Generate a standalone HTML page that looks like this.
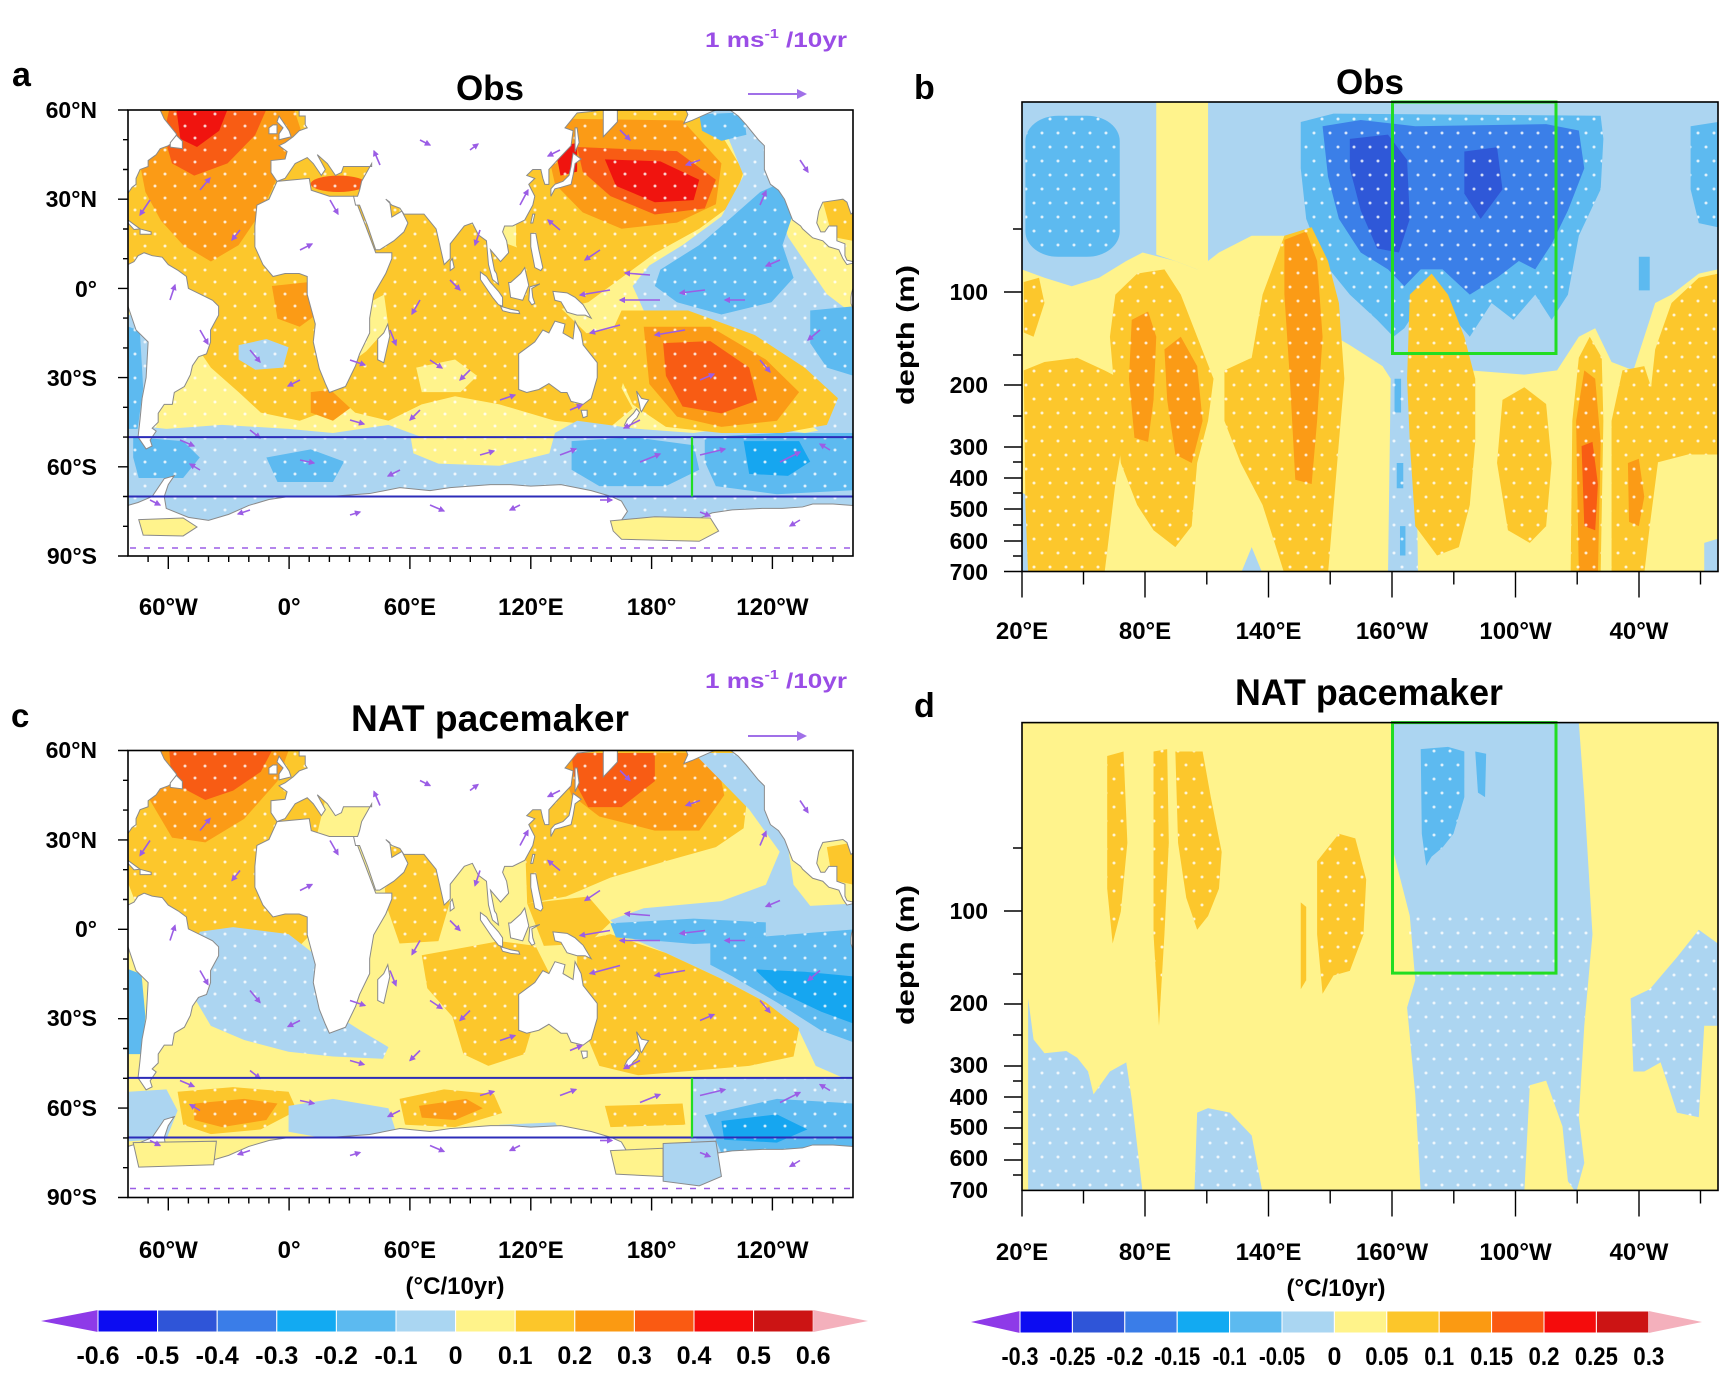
<!DOCTYPE html>
<html><head><meta charset="utf-8"><style>
html,body{margin:0;padding:0;background:#fff;}
svg{display:block;}
.nss *{vector-effect:non-scaling-stroke;}
text{font-family:"Liberation Sans",Arial,sans-serif;font-weight:bold;}
</style></head><body>
<svg width="1725" height="1377" viewBox="0 0 1725 1377" xmlns="http://www.w3.org/2000/svg">
<defs>
<clipPath id="cA"><rect x="128" y="110" width="725" height="446"/></clipPath>
<clipPath id="cC"><rect x="128" y="750.5" width="725" height="447"/></clipPath>
<clipPath id="cB"><rect x="1022" y="102" width="696" height="469.5"/></clipPath>
<clipPath id="cD"><rect x="1022" y="722.6" width="696" height="467.8"/></clipPath>
<pattern id="dA" width="20" height="24" patternUnits="userSpaceOnUse" patternTransform="scale(1.802,2.448)"><circle cx="5" cy="6" r="1.5" fill="#fff" fill-opacity="0.8"/><circle cx="15" cy="18" r="1.5" fill="#fff" fill-opacity="0.8"/></pattern>
<pattern id="dC" width="20" height="24" patternUnits="userSpaceOnUse" patternTransform="scale(1.802,2.125)"><circle cx="5" cy="6" r="1.5" fill="#fff" fill-opacity="0.8"/><circle cx="15" cy="18" r="1.5" fill="#fff" fill-opacity="0.8"/></pattern>
<pattern id="dB" width="16" height="28" patternUnits="userSpaceOnUse" patternTransform="scale(1.834,2.376)"><circle cx="4" cy="7" r="1.5" fill="#fff" fill-opacity="0.8"/><circle cx="12" cy="21" r="1.5" fill="#fff" fill-opacity="0.8"/></pattern>
<pattern id="dD" width="16" height="28" patternUnits="userSpaceOnUse" patternTransform="scale(1.834,2.187)"><circle cx="4" cy="7" r="1.5" fill="#fff" fill-opacity="0.8"/><circle cx="12" cy="21" r="1.5" fill="#fff" fill-opacity="0.8"/></pattern>
<marker id="ah" viewBox="0 0 10 10" refX="8" refY="5" markerWidth="4" markerHeight="4" orient="auto"><path d="M0,0 L10,5 L0,10 z" fill="#9b5de5"/></marker>
<marker id="ah2" viewBox="0 0 10 10" refX="8" refY="5" markerWidth="5" markerHeight="5" orient="auto"><path d="M0,0 L10,5 L0,10 z" fill="#a070e8"/></marker>

<g id="land" class="nss" fill="#fff" stroke="#8a8a8a" stroke-width="1">
<polygon points="-17,-21 -16,-28 -10,-30 -6,-36 10,-37 11,-33 20,-31 30,-31 32,-31 34,-28 38,-21 43,-12 51,-12 51,-10 48,-5 42,2 40,10 40,15 35,22 33,26 28,33 20,35 18,32 15,27 12,18 13,12 9,2 9,-4 5,-5 -2,-5 -8,-4 -13,-8 -17,-14"/>
<polygon points="5,-60 5,-58 8,-58 8,-55 9,-54 5,-53 2,-51 -2,-49 -5,-48 -1,-46 -2,-43.5 -9,-43 -9,-39 -6,-36 -2,-37 0,-39 3,-42 6,-43 9,-44 12,-42 16,-38 18,-40 14,-45 19,-42 23,-38 26,-39 27,-41 29,-41 36,-41 41,-41 41,-42 36,-36 35,-33 34,-31 32,-31 33,-28 35,-28 39,-21 43,-13 45,-13 52,-16 57,-19 59,-22 56,-26 51,-24 50,-29 48,-30 51,-28 55,-27 57,-25 62,-25 67,-25 73,-20 77,-8 80,-10 80,-15 87,-21 91,-22 94,-18 98,-16 99,-8 101,-3 104,-1.3 103,-5 102,-6 100,-13 105,-9 109,-12 108,-16 106,-19 107,-21 111,-21 117,-23 121,-28 122,-31 119,-35 122,-37 118,-38 121,-40 125,-40 126,-37 127,-35 129,-35 129,-40 133,-43 140,-48 141,-53 137,-54 143,-59 150,-59.5 155,-60"/>
<polygon points="156,-51 163,-56 163,-60 156,-60 156,-57"/>
<polygon points="142,-46 144,-49 143,-54 142,-54 142,-50"/>
<polygon points="130,-31 132,-33.5 135,-34 140,-35 141,-38 142,-42 145,-43.5 141,-45.5 140,-41 139,-38 136,-36 132,-35 130,-33.5"/>
<polygon points="49,12 50,16 47,25 44,24 44,17 47,15"/>
<polygon points="80,-6 82,-7 81,-10 80,-9"/>
<polygon points="120,-18.5 122.5,-18.5 124,-13 126,-7 125,-6 122,-7 120,-14"/>
<polygon points="120,-22 121,-25 122,-25 121,-22"/>
<polygon points="95,-5.5 98,-4 100,-2 104,1 106,3 106,6 104,5.5 101,3 98,0 95,-3"/>
<polygon points="105,6 110,7 114,7.5 114.5,8.5 110,8.2 106,7.5"/>
<polygon points="109,-2 110,3 116,4 119,-1 117,-7 115,-5 110,-2"/>
<polygon points="119,4 119.5,-0.5 124.5,-1.5 120.5,0 121,3 122,5 120.5,5.5"/>
<polygon points="131,1 138,1.5 142,3 146,5.5 150,10 147,9 143,9 138,8 135,4.5 132,4"/>
<polygon points="114,22 114,34 118,35 124,34 129,32 135,35 138,35 140,38 146,39 150,37 153,30 153,25 146,19 145,15 142,11 141,17 136,15 137,12 132,11 129,15 126,14 122,18"/>
<polygon points="145,41 148,41 148,43 146,43.5"/>
<polygon points="172.5,34.5 175,37 178.5,37.5 177,39 175,41.5 174.5,41 174,39"/>
<polygon points="172.5,40.5 174,41.7 172.7,43.5 171,44.5 169,46.5 166.5,46 168,44 171,42"/>
<polygon points="280,-60 219,-60 223,-58 227,-55 233,-50 236,-48 236,-40 239,-35 243,-33 246,-30 250,-23 254,-21 255,-20 260,-17 265,-16 268,-14 273,-13 275,-10 277,-8 280,-8.5 280,-9 277,-9.5 276,-11 276,-15 272,-16 272,-21 268,-21 266,-19 264,-19 262,-22 263,-26 265,-29 270,-29.5 275,-30 277,-29 278,-27 279,-25 280,-25.5"/>
<polygon points="197,-60 198,-58.5 196,-55.5 200,-56.5 205,-58 210,-59.5 212,-60"/>
<polygon points="280,0 279.3,1.5 279,3 279,5 280,7"/>
<polygon points="-80,-8 -77,-9 -75,-11 -72,-12 -68,-11 -63,-10.5 -60,-8 -55,-6 -51,-4 -50,0 -44,2 -38,4 -35,6 -35,9 -39,14 -39,18 -41,22 -45,23 -48,26 -49,29 -52,33 -57,35 -58,39 -62,39 -65,42 -65,45 -68,47 -66,48 -69,51 -68,53 -71,54 -75,50 -74,44 -73,37 -71,30 -70,18 -76,14 -80,6"/>
<polygon points="-80,-60 -64,-60 -62,-57 -56,-52 -56,-50 -60,-48 -64,-47 -66,-45 -70,-43 -70,-41 -74,-40 -76,-37 -76,-35 -78,-34 -80,-32"/>
<polygon points="-59,-47.5 -53,-47 -53,-49.5 -56,-51.5 -59,-49"/>
<polygon points="-80,-23 -76,-21 -74,-20 -77,-19.8 -80,-22"/>
<polygon points="-74,-20 -68.5,-19 -68.5,-18.2 -74,-18.2"/>
<polygon points="-5,-50 1,-51 0,-53 -3,-56 -5,-58 -6,-56 -3,-54 -5,-52"/>
<polygon points="-10,-52 -6,-52 -6,-55 -8,-55 -10,-54"/>
<polygon points="-80,73 -75,72 -68,70 -62,64 -57,63 -60,66 -62,70 -61,74 -50,77 -40,78 -30,76 -20,73 -10,71 0,70 20,70 30,69.5 40,69 55,67 70,68 80,67 90,66.5 100,66 110,66 120,66.5 135,66 150,68 160,70 165,71.5 168,75 165,78 180,78.5 200,78.5 205,77 210,75.5 220,74.5 235,74 245,74 255,73.5 260,72.5 270,72.5 280,73 280,91 -80,91"/>
</g>

<g id="arr" fill="none" stroke="#9b5de5" stroke-width="1.6" marker-end="url(#ah)">
<path d="M660,300 l-40,0"/><path d="M705,290 l-25,3"/><path d="M745,300 l-20,0"/><path d="M620,325 l-30,8"/><path d="M685,330 l-30,5"/><path d="M650,275 l-25,-2"/><path d="M610,290 l-30,5"/>
<path d="M600,250 l-15,10"/><path d="M560,230 l-12,-10"/><path d="M520,205 l8,-15"/><path d="M480,230 l-5,15"/><path d="M450,280 l10,10"/><path d="M420,300 l-8,14"/><path d="M390,330 l6,15"/><path d="M430,360 l12,8"/><path d="M470,370 l-10,10"/><path d="M350,360 l15,5"/><path d="M300,380 l-12,6"/><path d="M250,350 l10,12"/><path d="M200,330 l8,14"/><path d="M170,300 l5,-15"/><path d="M150,200 l-10,15"/><path d="M200,190 l10,-12"/><path d="M240,230 l-8,10"/><path d="M300,250 l12,-6"/><path d="M330,200 l8,14"/><path d="M380,165 l-6,-14"/><path d="M420,140 l10,5"/><path d="M470,150 l8,-6"/><path d="M560,150 l-12,6"/><path d="M620,130 l10,10"/><path d="M700,160 l-14,5"/><path d="M760,205 l6,-14"/><path d="M800,160 l8,12"/><path d="M780,260 l-14,6"/><path d="M820,330 l-12,10"/><path d="M760,360 l10,12"/><path d="M700,380 l14,-6"/><path d="M640,420 l-16,8"/><path d="M570,410 l12,-5"/><path d="M500,400 l15,-5"/><path d="M420,410 l-10,10"/><path d="M350,420 l14,4"/><path d="M250,430 l10,8"/><path d="M180,440 l14,6"/><path d="M200,470 l-10,-6"/><path d="M300,460 l14,3"/><path d="M400,470 l-12,6"/><path d="M480,455 l14,-4"/><path d="M560,455 l16,-6"/><path d="M640,462 l20,-8"/><path d="M700,455 l25,-6"/><path d="M780,462 l20,-10"/><path d="M830,450 l-10,-6"/><path d="M150,500 l10,5"/><path d="M250,510 l-12,4"/><path d="M350,515 l10,-3"/><path d="M430,505 l14,6"/><path d="M520,505 l-10,5"/><path d="M600,500 l12,0"/><path d="M700,512 l10,4"/><path d="M800,520 l-10,6"/>
<path d="M130,548 H852" stroke-dasharray="6,8" marker-end="none"/>
</g>

<!-- dot clip regions -->
<clipPath id="kC">
<use href="#c_na"/><use href="#c_sa"/><use href="#c_io1"/><use href="#c_io2"/><use href="#c_nwp"/><use href="#c_ep2"/><use href="#c_sp"/><use href="#c_s1"/><use href="#c_s2"/><use href="#c_s3"/><use href="#c_rb"/><use href="#c_eq"/>
</clipPath>
<clipPath id="kB">
<use href="#b_l"/><use href="#b_big"/><use href="#b_r"/><use href="#b_A"/><use href="#b_A2"/><use href="#b_B"/><use href="#b_C"/><use href="#b_D"/><use href="#b_E"/><use href="#b_F"/><use href="#b_G"/><use href="#b_H"/>
<path d="M955,880 L1000,880 L1005,1363 L950,1363 Z"/>
</clipPath>
<clipPath id="kD">
<path d="M985,560 L1325,560 L1310,800 L1300,1000 L1310,1100 L1295,1165 L1280,1140 L1270,1020 L1240,920 L1210,930 L1200,1165 L1010,1165 L1000,950 L985,760 L1000,700 Z"/>
<use href="#d_ll"/><use href="#d_lm"/><use href="#d_r"/><use href="#d_m1"/><use href="#d_o1"/><use href="#d_o2"/><use href="#d_o3"/><use href="#d_o5"/>
</clipPath>
</defs>

<!-- ============ PANEL A ============ -->
<g clip-path="url(#cA)">
<g transform="scale(0.55494,0.4085)">
<rect x="232" y="268" width="1306" height="1100" fill="#fff38c"/>
<path fill="#fcc72c" d="M232,268 H720 V700 L640,760 L620,830 L640,900 L600,1000 L540,1030 L470,1010 L430,960 L380,900 L350,840 L300,800 L250,760 L232,740 Z"/>
<path fill="#fb9b16" d="M290,268 H530 L545,330 L505,420 L470,520 L430,600 L380,640 L330,600 L290,540 L262,470 L252,400 L265,320 Z"/>
<path fill="#f85c14" d="M305,268 H480 L460,330 L410,400 L350,430 L310,400 L295,330 Z"/>
<path fill="#f0140f" d="M318,268 H410 L395,320 L355,360 L325,340 Z"/>
<path fill="#fb9b16" d="M490,700 L560,690 L580,760 L540,800 L500,780 Z"/>
<path fill="#acd5f1" d="M430,845 L480,830 L520,850 L510,900 L460,905 L430,880 Z"/>
<ellipse fill="#f85c14" cx="610" cy="450" rx="50" ry="20"/>
<path fill="#fb9b16" d="M560,960 L620,950 L640,990 L600,1030 L560,1010 Z"/>
<path fill="#fcc72c" d="M640,520 L820,520 L880,580 L960,620 L1000,740 L1060,820 L1100,900 L1140,1000 L1100,1045 L1000,1030 L900,990 L820,970 L760,990 L700,1030 L640,1010 L600,960 L620,900 L660,860 L700,800 L690,700 Z"/>
<path fill="#fff38c" d="M750,900 L820,880 L860,920 L830,960 L760,960 Z"/>
<path fill="#acd5f1" d="M232,1040 L300,1050 L400,1040 L520,1050 L600,1060 L700,1040 L760,1070 L1000,1060 L1040,1030 L1150,1050 L1250,1060 L1350,1040 L1450,1060 L1538,1040 V1300 H232 Z"/>
<path fill="#fff38c" d="M740,1070 L1000,1060 L990,1110 L900,1140 L790,1135 L745,1110 Z"/>
<path fill="#5dbaf0" d="M240,1070 L330,1080 L360,1120 L330,1170 L250,1170 L240,1120 Z"/>
<path fill="#5dbaf0" d="M480,1120 L560,1100 L620,1130 L600,1180 L500,1180 Z"/>
<path fill="#5dbaf0" d="M1030,1080 L1140,1070 L1250,1090 L1260,1150 L1200,1190 L1080,1190 L1030,1150 Z"/>
<path fill="#5dbaf0" d="M1270,1070 L1400,1060 L1538,1060 V1200 L1400,1210 L1290,1190 L1270,1130 Z"/>
<path fill="#16a6f0" d="M1340,1080 L1440,1080 L1460,1130 L1420,1165 L1350,1160 Z"/>
<path fill="#fcc72c" d="M930,268 H1250 L1300,330 L1340,420 L1320,500 L1260,560 L1180,620 L1120,680 L1060,740 L1000,760 L960,700 L930,600 Z"/>
<path fill="#fb9b16" d="M990,290 L1230,295 L1300,400 L1290,500 L1220,545 L1120,560 L1050,520 L1000,450 L985,360 Z"/>
<path fill="#f85c14" d="M1040,360 L1220,370 L1290,440 L1270,510 L1180,525 L1100,480 L1050,420 Z"/>
<path fill="#f0140f" d="M1090,390 L1190,395 L1260,440 L1250,490 L1180,495 L1110,455 Z"/>
<path fill="#f0140f" d="M1000,360 L1040,350 L1040,420 L1010,430 Z"/>
<path fill="#acd5f1" d="M1240,268 H1538 V1060 L1480,1060 L1420,1000 L1390,930 L1320,850 L1230,790 L1160,760 L1140,700 L1170,650 L1230,600 L1300,530 L1340,430 L1310,330 Z"/>
<path fill="#fff38c" d="M1400,500 L1460,460 L1538,430 V770 L1490,720 L1450,640 L1420,580 Z"/>
<path fill="#fcc72c" d="M1480,480 L1538,470 V590 L1500,580 Z"/>
<path fill="#5dbaf0" d="M1190,660 L1260,600 L1320,530 L1370,470 L1420,440 L1430,520 L1410,600 L1430,680 L1390,740 L1300,770 L1220,740 L1180,700 Z"/>
<path fill="#5dbaf0" d="M1260,280 L1340,275 L1345,330 L1300,345 L1265,320 Z"/>
<path fill="#5dbaf0" d="M1460,760 L1538,750 V920 L1490,900 L1460,840 Z"/>
<path fill="#fcc72c" d="M1120,760 L1240,760 L1360,820 L1450,900 L1510,975 L1490,1040 L1410,1060 L1300,1060 L1200,1045 L1140,990 L1110,900 L1100,820 Z"/>
<path fill="#fb9b16" d="M1160,800 L1280,800 L1380,880 L1440,960 L1400,1030 L1300,1045 L1220,1020 L1170,940 Z"/>
<path fill="#f85c14" d="M1195,840 L1280,835 L1350,900 L1365,980 L1300,1012 L1230,995 L1200,920 Z"/>
<path fill="#fcc72c" d="M1040,820 L1120,800 L1130,900 L1110,1000 L1060,1010 L1050,900 Z"/>
<path fill="#acd5f1" d="M232,770 L262,780 L272,900 L268,1060 L232,1060 Z"/>
<path fill="#5dbaf0" d="M232,800 L252,810 L258,950 L248,1050 L232,1050 Z"/>
<rect x="232" y="268" width="1306" height="1100" fill="url(#dA)"/>
</g>
<use href="#land" transform="translate(289.1,288.4) scale(2.0139,2.9733)"/>
<g class="nss" transform="scale(0.55494,0.4085)" stroke="#8a8a8a" stroke-width="1">
<path fill="#fff38c" d="M1100,1275 L1180,1265 L1280,1268 L1295,1300 L1260,1325 L1120,1320 L1105,1300 Z"/>
<path fill="#fff38c" d="M250,1272 L330,1268 L355,1290 L330,1312 L258,1310 Z"/>
</g>
<use href="#arr"/>
</g>
<line x1="128" y1="437.1" x2="853" y2="437.1" stroke="#2c2cb8" stroke-width="2"/>
<line x1="128" y1="496.5" x2="853" y2="496.5" stroke="#2c2cb8" stroke-width="2"/>
<line x1="692" y1="437.1" x2="692" y2="496.5" stroke="#22dd22" stroke-width="2.2"/>
<rect x="128" y="110" width="725" height="446" fill="none" stroke="#000" stroke-width="1.6"/>

<!-- ============ PANEL C ============ -->
<g clip-path="url(#cC)">
<g transform="translate(0,640) scale(0.55494,0.4706)">
<rect x="232" y="235" width="1306" height="960" fill="#fff38c"/>
<path id="c_na" fill="#fcc72c" d="M232,235 H580 L590,320 L570,420 L575,520 L580,600 L540,650 L470,655 L400,645 L340,640 L280,610 L245,560 L232,520 Z"/>
<path fill="#fb9b16" d="M290,235 H520 L500,300 L440,380 L370,430 L310,420 L270,340 L272,270 Z"/>
<path fill="#f85c14" d="M305,235 H490 L470,280 L420,320 L370,340 L330,315 L308,280 Z"/>
<path id="c_sa" fill="#acd5f1" d="M360,620 L420,610 L520,625 L580,680 L610,800 L650,830 L700,865 L690,890 L600,885 L520,875 L440,850 L380,820 L350,760 L340,680 Z"/>
<path fill="#5dbaf0" d="M232,700 L255,710 L262,800 L255,880 L232,880 Z"/>
<path id="c_s1" fill="#fcc72c" d="M320,960 L420,950 L520,960 L535,1000 L470,1040 L380,1050 L330,1030 Z"/>
<path fill="#fb9b16" d="M350,985 L440,975 L500,985 L480,1020 L400,1035 L350,1020 Z"/>
<path id="c_s2" fill="#fcc72c" d="M720,975 L800,955 L890,965 L905,1005 L820,1035 L730,1030 Z"/>
<path fill="#fb9b16" d="M755,990 L840,975 L870,995 L820,1020 L760,1015 Z"/>
<path id="c_s3" fill="#fcc72c" d="M1090,990 L1230,985 L1235,1030 L1100,1035 Z"/>
<path fill="#acd5f1" d="M520,990 L600,975 L700,995 L715,1050 L600,1062 L520,1045 Z"/>
<path fill="#acd5f1" d="M232,960 L300,955 L320,1000 L300,1060 L232,1065 Z"/>
<path fill="#acd5f1" d="M900,1030 L1000,1025 L1020,1060 L900,1065 Z"/>
<path id="c_rb" fill="#acd5f1" d="M1245,930 H1538 V1100 H1245 Z"/>
<path fill="#5dbaf0" d="M1270,1010 L1400,975 L1538,985 V1090 L1300,1090 Z"/>
<path fill="#16a6f0" d="M1300,1022 L1400,1008 L1455,1040 L1400,1068 L1305,1062 Z"/>
<path id="c_io1" fill="#fcc72c" d="M690,440 L800,440 L810,560 L790,640 L720,645 L695,560 Z"/>
<path id="c_io2" fill="#fcc72c" d="M760,670 L900,640 L965,650 L995,720 L965,800 L945,880 L880,905 L835,880 L815,800 L770,740 Z"/>
<path id="c_nwp" fill="#fcc72c" d="M940,235 H1320 L1350,300 L1340,400 L1290,440 L1200,470 L1100,505 L1020,545 L950,560 Z"/>
<path fill="#fb9b16" d="M1000,240 H1290 L1305,330 L1260,405 L1180,405 L1080,375 L1030,330 Z"/>
<path fill="#f85c14" d="M1030,240 H1180 L1180,300 L1120,355 L1060,355 L1035,300 Z"/>
<path fill="#acd5f1" d="M1250,240 H1538 V940 L1470,905 L1440,830 L1380,770 L1300,720 L1200,665 L1120,625 L1100,595 L1160,570 L1300,555 L1380,520 L1405,450 L1350,360 L1300,300 Z"/>
<path fill="#fff38c" d="M1420,440 L1538,410 V560 L1460,565 L1430,520 Z"/>
<path fill="#fcc72c" d="M1490,440 L1538,430 V520 L1500,510 Z"/>
<path id="c_sp" fill="#fcc72c" d="M1040,640 L1100,625 L1200,665 L1300,720 L1380,770 L1440,825 L1430,885 L1350,905 L1250,915 L1150,925 L1080,905 L1050,820 L1040,720 Z"/>
<path id="c_eq" fill="#5dbaf0" d="M1100,602 L1250,592 L1380,600 L1380,640 L1250,646 L1110,632 Z"/>
<path id="c_ep2" fill="#5dbaf0" d="M1280,640 L1400,628 L1538,615 V855 L1480,830 L1400,770 L1320,715 L1280,690 Z"/>
<path fill="#16a6f0" d="M1360,700 L1450,705 L1538,715 V815 L1480,790 L1400,745 Z"/>
<path fill="#fcc72c" d="M950,560 L1060,545 L1100,600 L1060,645 L980,650 Z"/>
<rect x="232" y="235" width="1306" height="960" fill="url(#dC)" clip-path="url(#kC)"/>
</g>
<use href="#land" transform="translate(289.1,928.9) scale(2.0139,2.98)"/>
<g class="nss" transform="translate(0,640) scale(0.55494,0.4706)" stroke="#8a8a8a" stroke-width="1">
<path fill="#fff38c" d="M1100,1085 L1195,1080 L1195,1140 L1110,1135 Z"/>
<path fill="#acd5f1" d="M1195,1070 L1290,1065 L1300,1140 L1260,1160 L1195,1150 Z"/>
<path fill="#fff38c" d="M240,1068 L390,1065 L385,1115 L250,1120 Z"/>
</g>
<use href="#arr" transform="translate(0,640.5)"/>
</g>
<line x1="128" y1="1077.9" x2="853" y2="1077.9" stroke="#2c2cb8" stroke-width="2"/>
<line x1="128" y1="1137.5" x2="853" y2="1137.5" stroke="#2c2cb8" stroke-width="2"/>
<line x1="692" y1="1077.9" x2="692" y2="1137.5" stroke="#22dd22" stroke-width="2.2"/>
<rect x="128" y="750.5" width="725" height="447" fill="none" stroke="#000" stroke-width="1.6"/>

<!-- map ticks -->
<g stroke="#000" stroke-width="1.4" fill="none">
<path d="M128,110 h-10 M128,199.2 h-10 M128,288.4 h-10 M128,377.6 h-10 M128,466.8 h-10 M128,556 h-10
M128,139.7 h-5 M128,169.5 h-5 M128,229 h-5 M128,258.7 h-5 M128,318.1 h-5 M128,347.9 h-5 M128,407.3 h-5 M128,437.1 h-5 M128,496.5 h-5 M128,526.3 h-5"/>
<path d="M168.3,556 v13 M289.1,556 v13 M409.9,556 v13 M530.8,556 v13 M651.6,556 v13 M772.4,556 v13
M148.1,556 v6 M188.4,556 v6 M208.5,556 v6 M228.7,556 v6 M248.8,556 v6 M268.9,556 v6 M309.2,556 v6 M329.4,556 v6 M349.5,556 v6 M369.6,556 v6 M389.8,556 v6 M430,556 v6 M450.2,556 v6 M470.3,556 v6 M490.5,556 v6 M510.6,556 v6 M550.9,556 v6 M571.1,556 v6 M591.2,556 v6 M611.3,556 v6 M631.5,556 v6 M671.8,556 v6 M691.9,556 v6 M712.1,556 v6 M732.2,556 v6 M752.3,556 v6 M792.6,556 v6 M812.7,556 v6 M832.9,556 v6"/>
<g transform="translate(0,640.5)">
<path d="M128,110 h-10 M128,199.4 h-10 M128,288.8 h-10 M128,378.2 h-10 M128,467.6 h-10 M128,557 h-10
M128,139.8 h-5 M128,169.6 h-5 M128,229.2 h-5 M128,259 h-5 M128,318.6 h-5 M128,348.4 h-5 M128,408 h-5 M128,437.8 h-5 M128,497.4 h-5 M128,527.2 h-5"/>
<path d="M168.3,557 v13 M289.1,557 v13 M409.9,557 v13 M530.8,557 v13 M651.6,557 v13 M772.4,557 v13
M148.1,557 v6 M188.4,557 v6 M208.5,557 v6 M228.7,557 v6 M248.8,557 v6 M268.9,557 v6 M309.2,557 v6 M329.4,557 v6 M349.5,557 v6 M369.6,557 v6 M389.8,557 v6 M430,557 v6 M450.2,557 v6 M470.3,557 v6 M490.5,557 v6 M510.6,557 v6 M550.9,557 v6 M571.1,557 v6 M591.2,557 v6 M611.3,557 v6 M631.5,557 v6 M671.8,557 v6 M691.9,557 v6 M712.1,557 v6 M732.2,557 v6 M752.3,557 v6 M792.6,557 v6 M812.7,557 v6 M832.9,557 v6"/>
</g>
</g>

<!-- ============ PANEL B ============ -->
<g clip-path="url(#cB)">
<g transform="translate(870,0) scale(0.54526,0.42088)">
<rect x="278" y="243" width="1277" height="1120" fill="#fff38c"/>
<path fill="#acd5f1" d="M278,243 H1555 V640 L1520,650 L1470,700 L1440,720 L1420,800 L1400,880 L1360,860 L1330,780 L1300,800 L1260,880 L1200,890 L1100,880 L1020,870 L1000,900 L1005,1363 L950,1363 L955,900 L940,870 L880,820 L800,760 L790,640 L760,560 L700,560 L640,600 L600,640 L560,620 L500,600 L470,620 L420,660 L370,680 L320,660 L278,640 Z"/>
<path fill="#fff38c" d="M525,243 H620 V625 L600,640 L560,620 L525,605 Z"/>
<path fill="#acd5f1" d="M278,1170 L292,1180 L292,1363 L278,1363 Z"/>
<path fill="#acd5f1" d="M680,1363 L700,1300 L720,1363 Z"/>
<path fill="#acd5f1" d="M1530,1290 L1555,1280 V1363 H1530 Z"/>
<rect id="b_l" fill="#5dbaf0" x="285" y="275" width="173" height="335" rx="60"/>
<path id="b_big" fill="#5dbaf0" d="M790,290 L850,270 L1340,275 L1345,330 L1340,450 L1300,560 L1280,700 L1250,760 L1220,700 L1180,760 L1140,720 L1100,800 L1060,740 L1020,700 L980,780 L960,800 L930,760 L880,700 L830,620 L800,520 L790,400 Z"/>
<path id="b_r" fill="#5dbaf0" d="M1505,300 L1555,290 V540 L1520,530 L1505,450 Z"/>
<path fill="#5dbaf0" d="M962,900 h12 v80 h-12 Z M966,1100 h12 v60 h-12 Z M972,1250 h10 v70 h-10 Z M1410,610 h20 v80 h-20 Z"/>
<path fill="#3b7fe8" d="M830,300 L900,285 L1000,300 L1240,295 L1300,310 L1310,400 L1280,500 L1250,580 L1220,640 L1190,620 L1150,660 L1100,700 L1050,640 L1010,640 L980,680 L950,640 L900,600 L860,520 L840,420 Z"/>
<path fill="#2f58d8" d="M880,330 L950,320 L985,380 L990,520 L970,600 L930,590 L900,500 L880,400 Z"/>
<path fill="#2f58d8" d="M1090,360 L1150,350 L1160,450 L1120,520 L1090,460 Z"/>
<path id="b_A" fill="#fcc72c" d="M282,880 L320,860 L380,850 L430,880 L460,900 L470,1000 L450,1150 L430,1363 L290,1363 L285,1200 Z"/>
<path id="b_A2" fill="#fcc72c" d="M282,670 L310,660 L320,720 L300,800 L282,790 Z"/>
<path id="b_B" fill="#fcc72c" d="M450,700 L490,650 L540,640 L570,700 L600,800 L630,900 L620,1000 L600,1100 L590,1250 L560,1300 L520,1260 L490,1200 L460,1100 L450,950 L440,800 Z"/>
<path id="b_C" fill="#fcc72c" d="M650,880 L700,850 L720,700 L760,560 L810,540 L840,620 L860,720 L870,900 L860,1050 L840,1363 L760,1363 L720,1200 L680,1100 L650,1000 Z"/>
<path id="b_D" fill="#fcc72c" d="M990,700 L1030,650 L1060,700 L1090,800 L1110,900 L1110,1050 L1100,1200 L1080,1300 L1040,1320 L1000,1250 L990,1050 L985,900 Z"/>
<path id="b_E" fill="#fcc72c" d="M1160,950 L1200,920 L1240,960 L1250,1100 L1240,1250 L1210,1290 L1170,1260 L1150,1100 Z"/>
<path id="b_F" fill="#fcc72c" d="M1285,1363 L1288,1000 L1300,850 L1320,800 L1342,850 L1345,1000 L1340,1363 Z"/>
<path id="b_G" fill="#fcc72c" d="M1360,1363 L1360,1000 L1380,880 L1420,870 L1440,950 L1445,1100 L1430,1250 L1420,1363 Z"/>
<path id="b_H" fill="#fcc72c" d="M1440,1100 L1430,950 L1440,830 L1470,720 L1520,660 L1555,650 V1080 L1500,1080 Z"/>
<path fill="#fb9b16" d="M480,760 L510,740 L525,800 L520,950 L510,1050 L485,1040 L475,900 Z"/>
<path fill="#fb9b16" d="M540,830 L570,800 L600,870 L610,1000 L590,1100 L560,1080 L545,950 Z"/>
<path fill="#fb9b16" d="M760,570 L800,550 L820,620 L830,800 L820,1000 L810,1150 L780,1140 L770,900 L760,700 Z"/>
<path fill="#fb9b16" d="M1295,1000 L1310,880 L1330,900 L1340,1050 L1335,1363 L1300,1363 Z"/>
<path fill="#fb9b16" d="M1390,1100 L1410,1090 L1420,1180 L1410,1250 L1392,1240 Z"/>
<path fill="#f85c14" d="M1305,1060 L1325,1050 L1335,1150 L1330,1260 L1310,1250 Z"/>
<rect x="278" y="243" width="1277" height="1120" fill="url(#dB)" clip-path="url(#kB)"/>
</g>
</g>
<rect x="1392.5" y="102" width="163.5" height="251.5" fill="none" stroke="#22dd22" stroke-width="3"/>
<rect x="1022" y="102" width="696" height="469.5" fill="none" stroke="#000" stroke-width="1.6"/>

<!-- ============ PANEL D ============ -->
<g clip-path="url(#cD)">
<g transform="translate(870,660) scale(0.54526,0.45725)">
<rect x="278" y="137" width="1277" height="1030" fill="#fff38c"/>
<path fill="#acd5f1" d="M958,137 L1300,137 L1310,300 L1325,600 L1310,800 L1300,1000 L1310,1100 L1295,1165 L1280,1140 L1270,1020 L1240,920 L1210,930 L1200,1165 L1010,1165 L1000,950 L985,760 L1000,700 L990,560 L960,420 Z"/>
<path id="d_ll" fill="#acd5f1" d="M290,740 L300,830 L320,860 L360,855 L380,870 L400,900 L410,950 L440,900 L470,880 L480,960 L500,1165 L290,1165 Z"/>
<path id="d_lm" fill="#acd5f1" d="M595,1165 L600,990 L620,980 L660,990 L700,1040 L720,1165 Z"/>
<path id="d_r" fill="#acd5f1" d="M1395,740 L1430,720 L1480,650 L1520,590 L1555,620 V800 L1530,800 L1520,1000 L1480,990 L1450,880 L1420,900 L1400,900 Z"/>
<path id="d_m1" fill="#5dbaf0" d="M1010,195 L1060,190 L1090,200 L1090,300 L1070,380 L1050,410 L1030,430 L1020,450 L1012,380 Z"/>
<path fill="#5dbaf0" d="M1110,200 L1130,205 L1128,300 L1115,290 Z"/>
<path id="d_o1" fill="#fcc72c" d="M435,210 L465,200 L472,400 L460,550 L445,620 L435,500 Z"/>
<path id="d_o2" fill="#fcc72c" d="M520,200 L545,195 L548,400 L540,600 L530,800 L520,600 Z"/>
<path id="d_o3" fill="#fcc72c" d="M560,200 L610,200 L625,300 L645,420 L640,500 L620,560 L600,590 L580,520 L565,400 Z"/>
<path fill="#fcc72c" d="M790,530 L800,540 L800,700 L790,720 Z"/>
<path id="d_o5" fill="#fcc72c" d="M820,440 L860,380 L890,390 L910,480 L905,600 L880,680 L850,690 L830,730 L820,600 Z"/>
<rect x="278" y="137" width="1277" height="1030" fill="url(#dD)" clip-path="url(#kD)"/>
</g>
</g>
<rect x="1392.5" y="722.6" width="163.5" height="250.5" fill="none" stroke="#22dd22" stroke-width="3"/>
<rect x="1022" y="722.6" width="696" height="467.8" fill="none" stroke="#000" stroke-width="1.6"/>

<!-- b/d ticks -->
<g stroke="#000" stroke-width="1.4" fill="none">
<path d="M1022,571.5 v26 M1145,571.5 v26 M1268.5,571.5 v26 M1392,571.5 v26 M1515.5,571.5 v26 M1639,571.5 v26
M1083.5,571.5 v13 M1206.8,571.5 v13 M1330.2,571.5 v13 M1453.8,571.5 v13 M1577.2,571.5 v13 M1700.5,571.5 v13
M1022,292 h-18 M1022,385 h-18 M1022,447 h-18 M1022,478 h-18 M1022,509 h-18 M1022,541 h-18 M1022,571.5 h-18
M1022,229 h-9 M1022,355 h-9 M1022,416 h-9 M1022,462 h-9 M1022,493 h-9 M1022,525 h-9 M1022,556 h-9"/>
<g transform="translate(0,619)">
<path d="M1022,571.5 v26 M1145,571.5 v26 M1268.5,571.5 v26 M1392,571.5 v26 M1515.5,571.5 v26 M1639,571.5 v26
M1083.5,571.5 v13 M1206.8,571.5 v13 M1330.2,571.5 v13 M1453.8,571.5 v13 M1577.2,571.5 v13 M1700.5,571.5 v13
M1022,292 h-18 M1022,385 h-18 M1022,447 h-18 M1022,478 h-18 M1022,509 h-18 M1022,541 h-18
M1022,229 h-9 M1022,355 h-9 M1022,416 h-9 M1022,462 h-9 M1022,493 h-9 M1022,525 h-9 M1022,556 h-9"/>
</g>
</g>

<!-- ============ TEXT ============ -->
<g fill="#000">
<text x="12" y="86" font-size="34">a</text>
<text x="914" y="99" font-size="34">b</text>
<text x="11" y="727" font-size="33">c</text>
<text x="914" y="717" font-size="34">d</text>
<text x="490" y="100" font-size="35" text-anchor="middle">Obs</text>
<text x="1370" y="94" font-size="35" text-anchor="middle">Obs</text>
<text x="490" y="731" font-size="37" text-anchor="middle" textLength="278" lengthAdjust="spacingAndGlyphs">NAT pacemaker</text>
<text x="1369" y="705" font-size="37" text-anchor="middle" textLength="268" lengthAdjust="spacingAndGlyphs">NAT pacemaker</text>
</g>
<g fill="#9a4de6">
<text x="705" y="47" font-size="21" textLength="142" lengthAdjust="spacingAndGlyphs">1 ms<tspan font-size="13" dy="-9">-1</tspan><tspan dy="9"> /10yr</tspan></text>
<text x="705" y="688" font-size="21" textLength="142" lengthAdjust="spacingAndGlyphs">1 ms<tspan font-size="13" dy="-9">-1</tspan><tspan dy="9"> /10yr</tspan></text>
</g>
<line x1="748" y1="94" x2="805" y2="94" stroke="#a070e8" stroke-width="2" marker-end="url(#ah2)"/>
<line x1="748" y1="736" x2="805" y2="736" stroke="#a070e8" stroke-width="2" marker-end="url(#ah2)"/>

<g font-size="23" text-anchor="end" fill="#000">
<text x="97" y="118">60°N</text><text x="97" y="207">30°N</text><text x="97" y="297">0°</text><text x="97" y="386">30°S</text><text x="97" y="475">60°S</text><text x="97" y="564">90°S</text>
<text x="97" y="758">60°N</text><text x="97" y="848">30°N</text><text x="97" y="937">0°</text><text x="97" y="1026">30°S</text><text x="97" y="1116">60°S</text><text x="97" y="1205">90°S</text>
<text x="988" y="300">100</text><text x="988" y="393">200</text><text x="988" y="455">300</text><text x="988" y="486">400</text><text x="988" y="517">500</text><text x="988" y="549">600</text><text x="988" y="580">700</text>
<text x="988" y="919">100</text><text x="988" y="1011">200</text><text x="988" y="1073">300</text><text x="988" y="1105">400</text><text x="988" y="1135">500</text><text x="988" y="1166">600</text><text x="988" y="1198">700</text>
</g>
<g font-size="24" text-anchor="middle" fill="#000">
<text x="168.3" y="615">60°W</text><text x="289.1" y="615">0°</text><text x="409.9" y="615">60°E</text><text x="530.8" y="615">120°E</text><text x="651.6" y="615">180°</text><text x="772.4" y="615">120°W</text>
<text x="168.3" y="1258">60°W</text><text x="289.1" y="1258">0°</text><text x="409.9" y="1258">60°E</text><text x="530.8" y="1258">120°E</text><text x="651.6" y="1258">180°</text><text x="772.4" y="1258">120°W</text>
<text x="1022" y="639">20°E</text><text x="1145" y="639">80°E</text><text x="1268.5" y="639">140°E</text><text x="1392" y="639">160°W</text><text x="1515.5" y="639">100°W</text><text x="1639" y="639">40°W</text>
<text x="1022" y="1260">20°E</text><text x="1145" y="1260">80°E</text><text x="1268.5" y="1260">140°E</text><text x="1392" y="1260">160°W</text><text x="1515.5" y="1260">100°W</text><text x="1639" y="1260">40°W</text>
<text x="455" y="1294">(°C/10yr)</text>
<text x="1336" y="1296">(°C/10yr)</text>
</g>
<text transform="translate(914,335) rotate(-90)" font-size="25" text-anchor="middle" textLength="140" lengthAdjust="spacingAndGlyphs">depth (m)</text>
<text transform="translate(914,955) rotate(-90)" font-size="25" text-anchor="middle" textLength="140" lengthAdjust="spacingAndGlyphs">depth (m)</text>

<!-- ============ COLORBARS ============ -->
<g stroke="#fff" stroke-width="1">
<polygon points="41,1321 98,1310 98,1332" fill="#8e3ae8" stroke="none"/>
<rect x="98" y="1310" width="59.6" height="22" fill="#0c0cf2"/>
<rect x="157.6" y="1310" width="59.6" height="22" fill="#2f55d8"/>
<rect x="217.2" y="1310" width="59.6" height="22" fill="#3a7de8"/>
<rect x="276.8" y="1310" width="59.6" height="22" fill="#12aaf2"/>
<rect x="336.4" y="1310" width="59.6" height="22" fill="#5cbaf0"/>
<rect x="396" y="1310" width="59.6" height="22" fill="#aad6f2"/>
<rect x="455.6" y="1310" width="59.6" height="22" fill="#fff38a"/>
<rect x="515.2" y="1310" width="59.6" height="22" fill="#fcc62a"/>
<rect x="574.8" y="1310" width="59.6" height="22" fill="#fb9a12"/>
<rect x="634.4" y="1310" width="59.6" height="22" fill="#fa5a12"/>
<rect x="694" y="1310" width="59.6" height="22" fill="#f50c0c"/>
<rect x="753.6" y="1310" width="59.6" height="22" fill="#cc1414"/>
<polygon points="813.2,1310 868,1321 813.2,1332" fill="#f4b0bc" stroke="none"/>

<polygon points="971,1322 1020,1311 1020,1333" fill="#8e3ae8" stroke="none"/>
<rect x="1020" y="1311" width="52.4" height="22" fill="#0c0cf2"/>
<rect x="1072.4" y="1311" width="52.4" height="22" fill="#2f55d8"/>
<rect x="1124.8" y="1311" width="52.4" height="22" fill="#3a7de8"/>
<rect x="1177.2" y="1311" width="52.4" height="22" fill="#12aaf2"/>
<rect x="1229.6" y="1311" width="52.4" height="22" fill="#5cbaf0"/>
<rect x="1282" y="1311" width="52.4" height="22" fill="#aad6f2"/>
<rect x="1334.4" y="1311" width="52.4" height="22" fill="#fff38a"/>
<rect x="1386.8" y="1311" width="52.4" height="22" fill="#fcc62a"/>
<rect x="1439.2" y="1311" width="52.4" height="22" fill="#fb9a12"/>
<rect x="1491.6" y="1311" width="52.4" height="22" fill="#fa5a12"/>
<rect x="1544" y="1311" width="52.4" height="22" fill="#f50c0c"/>
<rect x="1596.4" y="1311" width="52.4" height="22" fill="#cc1414"/>
<polygon points="1648.8,1311 1702,1322 1648.8,1333" fill="#f4b0bc" stroke="none"/>
</g>
<g font-size="25" text-anchor="middle" fill="#000">
<text x="98" y="1364">-0.6</text><text x="157.6" y="1364">-0.5</text><text x="217.2" y="1364">-0.4</text><text x="276.8" y="1364">-0.3</text><text x="336.4" y="1364">-0.2</text><text x="396" y="1364">-0.1</text><text x="455.6" y="1364">0</text><text x="515.2" y="1364">0.1</text><text x="574.8" y="1364">0.2</text><text x="634.4" y="1364">0.3</text><text x="694" y="1364">0.4</text><text x="753.6" y="1364">0.5</text><text x="813.2" y="1364">0.6</text>
</g>
<g font-size="25" text-anchor="middle" fill="#000">
<text x="1020" y="1365" textLength="37" lengthAdjust="spacingAndGlyphs">-0.3</text>
<text x="1072.4" y="1365" textLength="46" lengthAdjust="spacingAndGlyphs">-0.25</text>
<text x="1124.8" y="1365" textLength="37" lengthAdjust="spacingAndGlyphs">-0.2</text>
<text x="1177.2" y="1365" textLength="46" lengthAdjust="spacingAndGlyphs">-0.15</text>
<text x="1229.6" y="1365" textLength="34" lengthAdjust="spacingAndGlyphs">-0.1</text>
<text x="1282" y="1365" textLength="46" lengthAdjust="spacingAndGlyphs">-0.05</text>
<text x="1334.4" y="1365">0</text>
<text x="1386.8" y="1365" textLength="43" lengthAdjust="spacingAndGlyphs">0.05</text>
<text x="1439.2" y="1365" textLength="30" lengthAdjust="spacingAndGlyphs">0.1</text>
<text x="1491.6" y="1365" textLength="43" lengthAdjust="spacingAndGlyphs">0.15</text>
<text x="1544" y="1365" textLength="31" lengthAdjust="spacingAndGlyphs">0.2</text>
<text x="1596.4" y="1365" textLength="43" lengthAdjust="spacingAndGlyphs">0.25</text>
<text x="1648.8" y="1365" textLength="31" lengthAdjust="spacingAndGlyphs">0.3</text>
</g>
</svg>
</body></html>
